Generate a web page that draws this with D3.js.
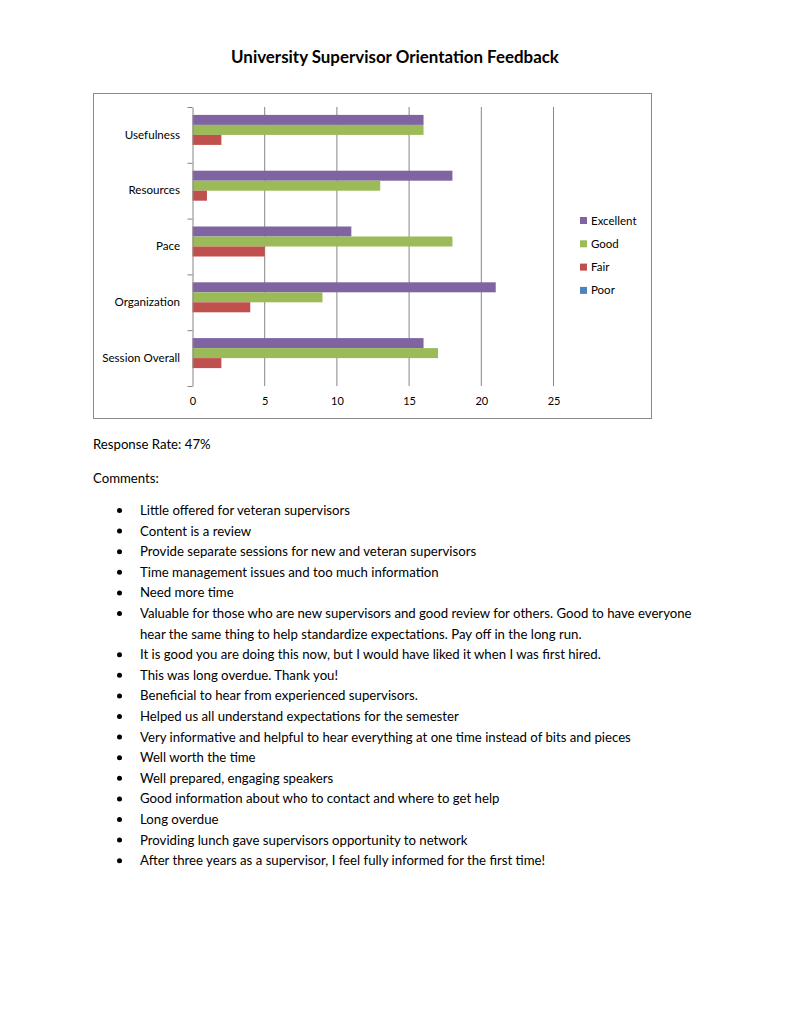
<!DOCTYPE html>
<html><head><meta charset="utf-8">
<script src="https://cdn.jsdelivr.net/npm/d3@7"></script>
<style>body{margin:0;background:#fff}svg{display:block}</style>
</head><body>
<script>
const categories = ["Usefulness","Resources","Pace","Organization","Session Overall"];
const seriesNames = ["Excellent","Good","Fair","Poor"];
const excellent = [16,18,11,21,16];
const good = [16,13,18,9,17];
const fair = [2,1,5,4,2];
const poor = [0,0,0,0,0];
const xTicks = [0,5,10,15,20,25];
const colors = ["#8064A2","#9BBB59","#C0504D","#4F81BD"];
const title = "University Supervisor Orientation Feedback";
const responseRate = "Response Rate: 47%";
const commentsLabel = "Comments:";
const comments = [
"Little offered for veteran supervisors",
"Content is a review",
"Provide separate sessions for new and veteran supervisors",
"Time management issues and too much information",
"Need more time",
"Valuable for those who are new supervisors and good review for others. Good to have everyone hear the same thing to help standardize expectations. Pay off in the long run.",
"It is good you are doing this now, but I would have liked it when I was first hired.",
"This was long overdue. Thank you!",
"Beneficial to hear from experienced supervisors.",
"Helped us all understand expectations for the semester",
"Very informative and helpful to hear everything at one time instead of bits and pieces",
"Well worth the time",
"Well prepared, engaging speakers",
"Good information about who to contact and where to get help",
"Long overdue",
"Providing lunch gave supervisors opportunity to network",
"After three years as a supervisor, I feel fully informed for the first time!"
];
const seriesValues = [excellent, good, fair, poor];

const W = 791, H = 1023;
const font = "Lato, 'Open Sans', sans-serif";
const svg = d3.select("body").append("svg").attr("width", W).attr("height", H)
  .style("font-family", font);

svg.append("text").attr("x", 395).attr("y", 63).attr("text-anchor","middle")
  .attr("font-size", 16.9).attr("font-weight","bold").attr("fill","#000").text(title);

// chart frame
svg.append("rect").attr("x",93.5).attr("y",93.5).attr("width",558).attr("height",325)
  .attr("fill","#fff").attr("stroke","#8a8a8a").attr("stroke-width",1);

const x = d3.scaleLinear().domain([0,25]).range([192.5,553.5]);
const y = d3.scaleBand().domain(categories).range([107,386]).paddingInner(0).paddingOuter(0);
const inner = d3.scaleBand().domain(seriesNames).range([0, y.bandwidth()]).paddingInner(0).paddingOuter(0.79);

// gridlines
svg.append("g").selectAll("line").data(xTicks.slice(1)).join("line")
  .attr("x1", d=>x(d)).attr("x2", d=>x(d)).attr("y1",107).attr("y2",386)
  .attr("stroke","#868686").attr("stroke-width",1);

// bars
const data = [];
categories.forEach((c,i)=>seriesNames.forEach((s,j)=>data.push({c, s, v: seriesValues[j][i], col: colors[j]})));
svg.append("g").selectAll("rect").data(data).join("rect")
  .attr("x", x(0)).attr("y", d=>y(d.c)+inner(d.s))
  .attr("width", d=>x(d.v)-x(0)).attr("height", inner.bandwidth())
  .attr("fill", d=>d.col);

// y axis
const yAxis = d3.axisLeft(y).tickSize(0).tickPadding(12.5);
const gy = svg.append("g").attr("transform",`translate(${x(0)},0)`).call(yAxis);
gy.select(".domain").attr("stroke","#868686");
gy.selectAll("text").attr("font-size",11.6).attr("fill","#000").attr("font-family",font);
// tick marks between categories
const bounds = categories.map(c=>y(c)).concat([386]);
svg.append("g").selectAll("line").data(bounds).join("line")
  .attr("x1", x(0)-5).attr("x2", x(0)).attr("y1", d=>d+0.5).attr("y2", d=>d+0.5)
  .attr("stroke","#868686");

// x axis
const xAxis = d3.axisBottom(x).tickValues(xTicks).tickSize(0).tickPadding(11).tickFormat(d3.format("d"));
const gx = svg.append("g").attr("transform","translate(0,386)").call(xAxis);
gx.select(".domain").remove();
gx.selectAll("text").attr("font-size",11).attr("fill","#000").attr("font-family",font);

// legend
const lg = svg.append("g").selectAll("g").data(seriesNames).join("g")
  .attr("transform",(d,i)=>`translate(580,${220.5 + i*23.3})`);
lg.append("rect").attr("x",0).attr("y",-3.5).attr("width",7).attr("height",7).attr("fill",(d,i)=>colors[i]);
lg.append("text").attr("x",11).attr("y",0).attr("dy","0.35em").attr("font-size",11.5).attr("fill","#000").text(d=>d);

// text body
const fs = 13.2;
svg.append("text").attr("x",93).attr("y",449).attr("font-size",fs).text(responseRate);
svg.append("text").attr("x",93).attr("y",483).attr("font-size",fs).text(commentsLabel);

const maxW = 560;
let yy = 515;
const lineH = 20.6;
comments.forEach(c=>{
  svg.append("circle").attr("cx",119.5).attr("cy",yy-4.5).attr("r",2.5).attr("fill","#000");
  const words = c.split(" ");
  let line = [];
  let t = svg.append("text").attr("x",140).attr("y",yy).attr("font-size",fs);
  for (const w of words) {
    line.push(w);
    t.text(line.join(" "));
    if (t.node().getComputedTextLength() > maxW && line.length > 1) {
      line.pop();
      t.text(line.join(" "));
      yy += lineH;
      line = [w];
      t = svg.append("text").attr("x",140).attr("y",yy).attr("font-size",fs).text(w);
    }
  }
  yy += lineH;
});
</script>
</body></html>
